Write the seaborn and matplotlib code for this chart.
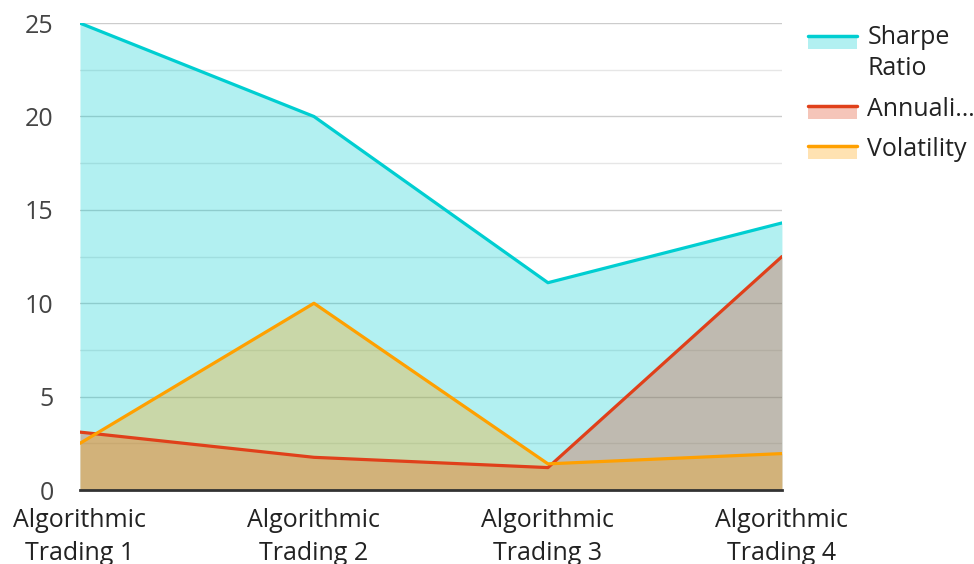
import matplotlib
matplotlib.use("Agg")
import matplotlib.pyplot as plt
import pandas as pd
import seaborn as sns
from matplotlib.legend_handler import HandlerBase
from matplotlib.patches import Rectangle
from matplotlib.lines import Line2D

strategies = ["Algorithmic\nTrading 1", "Algorithmic\nTrading 2",
              "Algorithmic\nTrading 3", "Algorithmic\nTrading 4"]
sharpe = [25, 20, 11.1, 14.3]
annualized = [3.1, 1.75, 1.2, 12.5]
volatility = [2.5, 10, 1.4, 1.95]

series_names = ["Sharpe Ratio", "Annualized Return", "Volatility"]
legend_labels = ["Sharpe\nRatio", "Annuali…", "Volatility"]
line_colors = ["#00CED1", "#E0401A", "#FFA000"]
fill_colors = ["#00CED1", "#E0401A", "#FFA000"]

df = pd.DataFrame({
    "x": list(range(len(strategies))) * 3,
    "value": sharpe + annualized + volatility,
    "series": sum([[n] * len(strategies) for n in series_names], []),
})

sns.set_style("white")
plt.rcParams["font.family"] = ["Open Sans", "DejaVu Sans"]

fig = plt.figure(figsize=(9.74, 5.64), dpi=100)
ax = fig.add_axes([0.0821, 0.1312, 0.7207, 0.8278])

for name, fc in zip(series_names, fill_colors):
    sub = df[df.series == name]
    ax.fill_between(sub.x, 0, sub.value, color=fc, alpha=0.3, lw=0, zorder=2)

sns.lineplot(data=df, x="x", y="value", hue="series", palette=line_colors,
             hue_order=series_names, linewidth=2.3, legend=False, ax=ax, zorder=3)

ax.set_xlim(0, len(strategies) - 1)
ax.set_ylim(0, 25)
ax.set_xticks(range(len(strategies)))
ax.set_xticklabels(strategies, fontsize=18, color="#222222", linespacing=1.4)
ax.set_yticks([0, 5, 10, 15, 20, 25])
ax.set_yticks([2.5, 7.5, 12.5, 17.5, 22.5], minor=True)
ax.tick_params(axis="y", labelsize=18, labelcolor="#444444", length=0, pad=19)
ax.tick_params(axis="x", length=0, pad=13)
ax.grid(axis="y", which="major", color="#cccccc", lw=1.0, zorder=1)
ax.grid(axis="y", which="minor", color="#e6e6e6", lw=1.0, zorder=1)
ax.set_xlabel("")
ax.set_ylabel("")
for s in ["left", "right", "top"]:
    ax.spines[s].set_visible(False)
ax.spines["bottom"].set_color("#333333")
ax.spines["bottom"].set_linewidth(2)
ax.spines["bottom"].set_zorder(5)


class AreaHandler(HandlerBase):
    def __init__(self, color, yoff=0.0):
        super().__init__()
        self.color = color
        self.yoff = yoff

    def create_artists(self, legend, orig_handle, xdescent, ydescent,
                       width, height, fontsize, trans):
        y0 = -ydescent - 2 + self.yoff
        rect = Rectangle((-xdescent, y0), width, 9.4,
                         facecolor=self.color, alpha=0.3, lw=0, transform=trans)
        line = Line2D([-xdescent, -xdescent + width], [y0 + 9.4, y0 + 9.4],
                      color=self.color, lw=2.5, transform=trans)
        return [rect, line]


handles = [Rectangle((0, 0), 1, 1) for _ in series_names]
offsets = [11.5, 0.0, 0.0]
leg = fig.legend(handles, legend_labels,
                 handler_map={h: AreaHandler(c, o)
                              for h, c, o in zip(handles, line_colors, offsets)},
                 loc="upper left", bbox_to_anchor=(0.8296, 0.956), frameon=False,
                 borderpad=0, borderaxespad=0,
                 fontsize=18, handlelength=1.95, handleheight=0.7,
                 handletextpad=0.42, labelspacing=0.62)
for t in leg.get_texts():
    t.set_color("#222222")
    t.set_linespacing(1.35)

fig.savefig("out.png", dpi=100)
